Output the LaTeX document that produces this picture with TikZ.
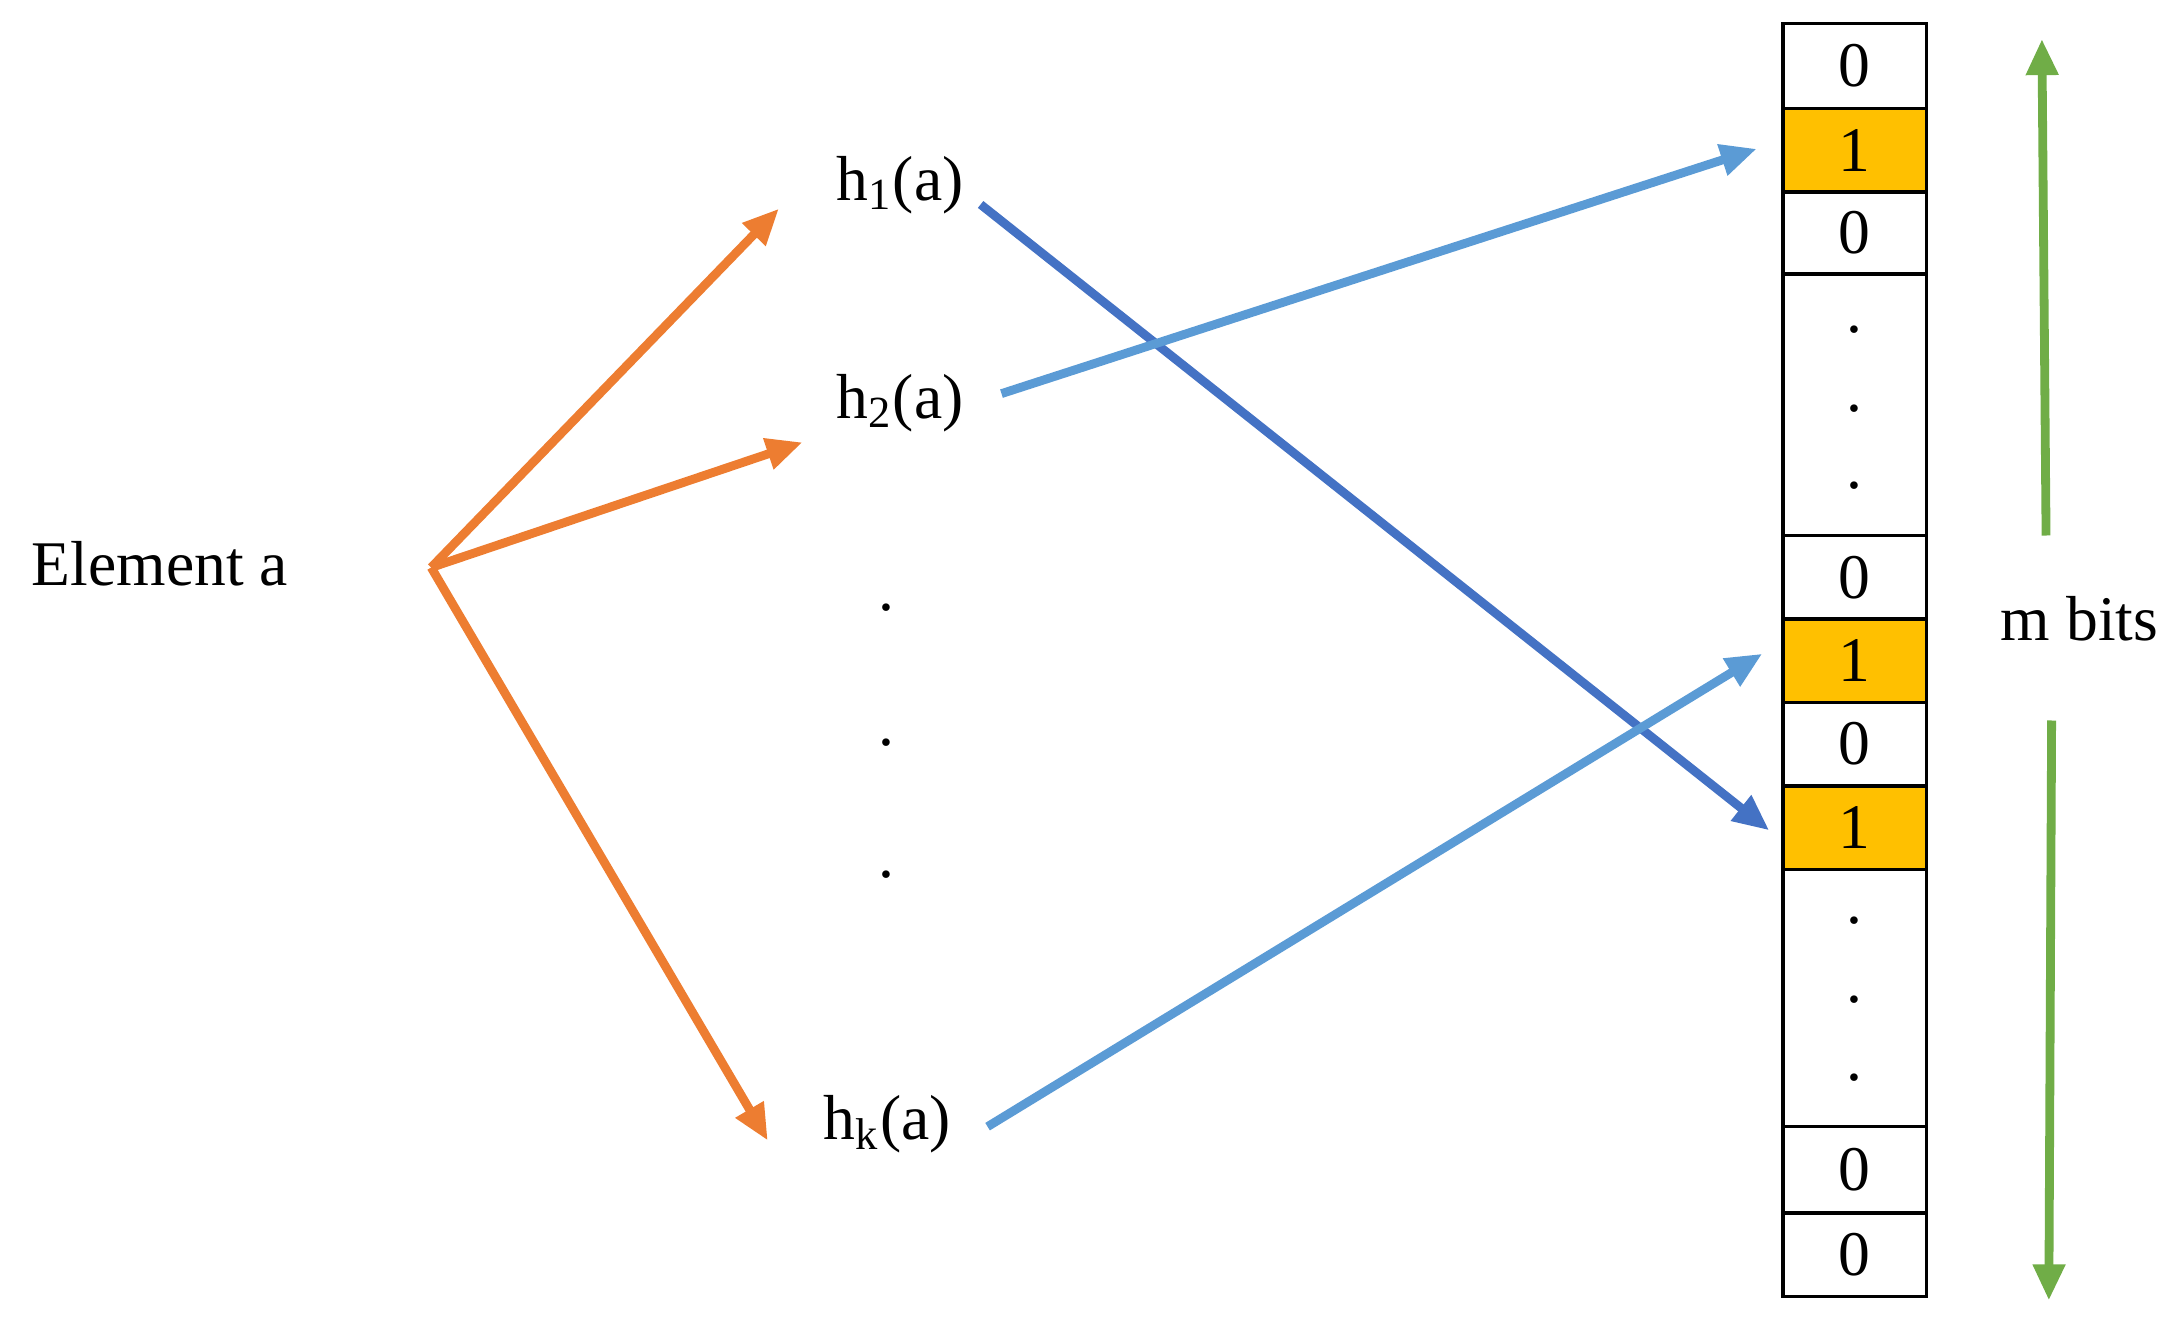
\documentclass[tikz,border=0pt]{standalone}
\usepackage{fontspec}
\setmainfont{Liberation Serif}
\usetikzlibrary{arrows.meta}
\definecolor{org}{HTML}{ED7D31}
\definecolor{lb}{HTML}{5B9BD5}
\definecolor{db}{HTML}{4472C4}
\definecolor{gr}{HTML}{70AD47}
\definecolor{yl}{HTML}{FFC000}
\tikzset{
 arr/.style={line width=1.8pt,-{Triangle[length=0.26cm,width=0.22cm]}},
 lbl/.style={font=\fontsize{13}{15}\selectfont,inner sep=0pt},
 cell/.style={draw=black,line width=0.7pt},
 dig/.style={font=\fontsize{13}{15}\selectfont,inner sep=0pt},
 dot/.style={font=\fontsize{13}{15}\selectfont,inner sep=0pt}
}
\begin{document}
\begin{tikzpicture}[x=0.01cm,y=-0.01cm]
\useasboundingbox (0,0) rectangle (1568,958);
% cells
\foreach \a/\b/\f in {17/78/white,78/138/yl,138/197/white,197/385/white,385/445/white,445/505/yl,505/565/white,565/625/yl,625/810/white,810/872/white,872/932/white}{
 \filldraw[cell,fill=\f] (1282,\a) rectangle (1385,\b);
}
\foreach \y/\t in {47/0,108/1,167/0,415/0,475/1,535/0,595/1,841/0,902/0}{
 \node[dig] at (1333,\y) {\t};
}
\foreach \y in {237,294,349,662,719,775}{\node[dot] at (1333,\y) {.};}
% labels
\node[lbl] (el) at (115,405) {Element a};
\node[lbl] (h1) at (647,133) {h\textsubscript{1}(a)};
\node[lbl] (h2) at (647,290) {h\textsubscript{2}(a)};
\node[lbl] (hk) at (638,808) {h\textsubscript{k}(a)};
\foreach \y [count=\i] in {437,534,629}{\node[dot] (d\i) at (637,\y) {.};}
\node[lbl] (mb) at (1495,445) {m bits};
% coordinates
\coordinate (src) at (310,408);
\coordinate (t1) at (560,150);
\coordinate (t2) at (577,318);
\coordinate (tk) at (552,820);
\coordinate (s1) at (705,147);
\coordinate (e1) at (1272,597);
\coordinate (s2) at (720,283);
\coordinate (e2) at (1263,107);
\coordinate (sk) at (710,810);
\coordinate (ek) at (1267,470);
\coordinate (gu1) at (1471,385);
\coordinate (gu2) at (1468,28);
\coordinate (gd1) at (1475,518);
\coordinate (gd2) at (1473,935);
% arrows
\draw[arr,org] (src) -- (t1);
\draw[arr,org] (src) -- (t2);
\draw[arr,org] (src) -- (tk);
\draw[arr,db] (s1) -- (e1);
\draw[arr,lb] (s2) -- (e2);
\draw[arr,lb] (sk) -- (ek);
\draw[arr,gr] (gu1) -- (gu2);
\draw[arr,gr] (gd1) -- (gd2);
\end{tikzpicture}
\end{document}
